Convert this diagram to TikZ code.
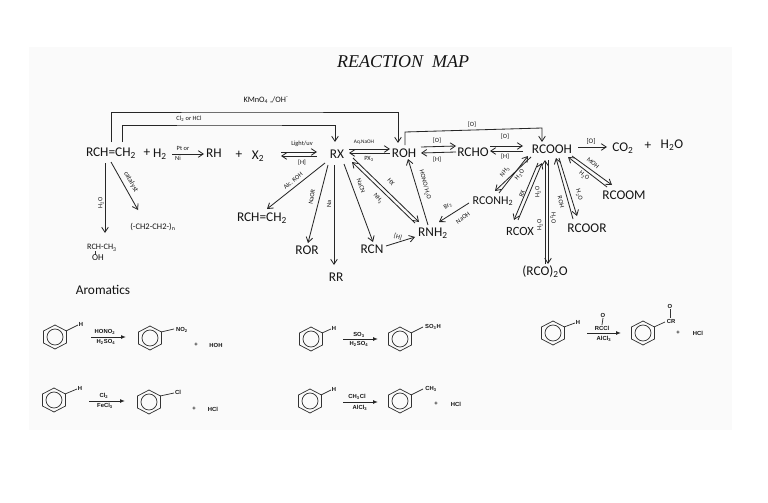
\documentclass[tikz,border=0pt]{standalone}
\usepackage{fontspec}
\setmainfont{Carlito}
\newfontfamily\chemsans{Liberation Sans}
\newfontfamily\titlefont{Liberation Serif}
\usetikzlibrary{arrows.meta}
\tikzset{
 every node/.style={inner sep=0pt,outer sep=0pt,text=black!92},
 chem/.style={font=\fontsize{10pt}{11pt}\selectfont},
 lab/.style={font=\fontsize{4.8pt}{5pt}\selectfont},
 arlab/.style={font=\chemsans\bfseries\fontsize{4.4pt}{5pt}\selectfont},
 arr/.style={draw=black!85,line width=0.62pt,-{Straight Barb[length=3.8pt,width=5pt]}},
 ararr/.style={draw=black!85,line width=0.7pt,-{Latex[length=3.6pt,width=2.8pt]}},
 ring/.style={draw=black!80,line width=0.55pt,minimum size=12pt,circle,fill=none},
 bond/.style={draw=black!80,line width=0.55pt},
}
\newcommand{\benz}[3]{%
 \node[ring] (#1) at (#2,#3) {};
 \draw[bond] (#2+11.5,#3-6) -- (#2,#3-12) -- (#2-11.5,#3-6) -- (#2-11.5,#3+6) -- (#2,#3+12) -- (#2+11.5,#3+6) -- cycle;
}
\newcommand{\pt}[3]{([shift={(#2,#3)}]#1.center)}
\begin{document}
\begin{tikzpicture}[x=0.75pt,y=-0.75pt]
\useasboundingbox (0,0) rectangle (768,503);
\fill[white] (0,0) rectangle (768,503);
\fill[black!2] (29,47) rectangle (732,430);
% title
\node[font=\titlefont\itshape\fontsize{13.5pt}{14pt}\selectfont] (title) at (403,62) {REACTION\ \ MAP};
% main nodes
\node[chem] (alk) at (111,153) {RCH=CH\textsubscript{2}};
\node[chem] (plusa) at (147,153) {+};
\node[chem] (htwo) at (160,154) {H\textsubscript{2}};
\node[chem] (rh) at (214,153) {RH};
\node[chem] (plusb) at (239,155) {+};
\node[chem] (xtwo) at (258,156) {X\textsubscript{2}};
\node[chem] (rx) at (337,154) {RX};
\node[chem] (roh) at (404,153) {ROH};
\node[chem] (rcho) at (473,152) {RCHO};
\node[chem] (rcooh) at (552,149) {RCOOH};
\node[chem] (co) at (623,148) {CO\textsubscript{2}};
\node[chem] (plusc) at (648,146) {+};
\node[chem] (hto) at (672,145) {H\textsubscript{2}O};
\node[chem] (rcoom) at (624,195) {RCOOM};
\node[chem] (rcoor) at (587,228) {RCOOR};
\node[chem,font=\fontsize{9.4pt}{11pt}\selectfont] (rcox) at (520,231) {RCOX};
\node[chem] (anh) at (545,272) {(RCO)\textsubscript{2}O};
\node[chem,font=\fontsize{9pt}{10pt}\selectfont] (rconh) at (493,201) {RCONH\textsubscript{2}};
\node[chem] (rnh) at (433,233) {RNH\textsubscript{2}};
\node[chem] (rcn) at (372,249) {RCN};
\node[chem] (rr) at (336,277) {RR};
\node[chem] (ror) at (307,250) {ROR};
\node[chem] (alkb) at (262,218) {RCH=CH\textsubscript{2}};
\node[lab,font=\fontsize{6.4pt}{7pt}\selectfont] (poly) at (153,227) {(-CH2-CH2-)\textsubscript{n}};
\node[lab,font=\fontsize{6.2pt}{7pt}\selectfont] (alc) at (102,248) {RCH-CH\textsubscript{3}};
\node[lab,font=\fontsize{6.8pt}{7pt}\selectfont] (alcoh) at (98,258) {OH};
\draw[bond] \pt{alc}{-7}{3} -- \pt{alcoh}{-3}{-3};
% top lines
\draw[arr] \pt{alk}{0}{-11} |- (250,112) -| \pt{roh}{-6}{-10};
\draw[arr] \pt{alk}{11}{-11} |- (230,125) -| \pt{rx}{-2}{-12};
\draw[arr] \pt{roh}{1}{-8} -- ++(0,-13) -- \pt{rcooh}{-10}{-21} -- \pt{rcooh}{-10}{-7};
\node[lab,font=\fontsize{6.2pt}{6pt}\selectfont] (klab) at (266,100) {KMnO\textsubscript{4} ,/OH\textsuperscript{-}};
\node[lab] (cllab) at (189,119) {Cl\textsubscript{2} or HCl};
\node[lab] (olab) at (472,125) {[O]};
% left
\draw[arr] \pt{htwo}{12}{0} -- \pt{rh}{-10}{1};
\node[lab] (ptl) at (183,148) {Pt or};
\node[lab] (nil) at (178,158) {Ni};
\draw[arr] \pt{xtwo}{23}{-4} -- \pt{rx}{-20}{-2};
\draw[arr] \pt{rx}{-20}{2} -- \pt{xtwo}{23}{0};
\node[lab] (lightl) at (302,144) {Light/uv};
\node[lab] (hl) at (302,163) {[H]};
\draw[arr] \pt{alk}{-6}{10} -- \pt{alc}{3}{-15};
\node[lab,rotate=90] (hwl) at (101,203) {H\textsubscript{2}O};
\draw[arr] \pt{alk}{0}{9} -- \pt{poly}{-15}{-17};
\node[lab,rotate=-60,font=\fontsize{5.4pt}{6pt}\selectfont] (catl) at (131,182) {catalyst};
% RX products
\draw[arr] \pt{rx}{-12}{9} -- \pt{alkb}{5}{-9};
\node[lab,rotate=40] (kohl) at (293,181) {Alc. KOH};
\draw[arr] \pt{rx}{-9}{11} -- \pt{ror}{1}{-7};
\node[lab,rotate=80] (norl) at (312,197) {NaOR};
\draw[arr] \pt{rx}{-3}{11} -- \pt{rr}{-2}{-12};
\node[lab,rotate=90] (nal) at (329,204) {Na};
\draw[arr] \pt{rx}{7}{10} -- \pt{rcn}{1}{-7};
\node[lab,rotate=-70] (cnl) at (361,186) {NaCN};
\draw[arr] \pt{rcn}{14}{-3} -- \pt{rnh}{-18}{4};
\node[lab,rotate=-15] (hrl) at (398,237) {[H]};
\draw[arr] \pt{rx}{12}{-5} -- \pt{roh}{-14}{-4};
\draw[arr] \pt{roh}{-14}{0} -- \pt{rx}{12}{-1};
\node[lab,font=\fontsize{4pt}{5pt}\selectfont] (aql) at (364,142) {Aq.NaOH};
\node[lab] (pxl) at (369,159) {PX\textsubscript{3}};
\draw[arr] \pt{rx}{16}{4} -- \pt{rnh}{-14}{-11};
\draw[arr] \pt{rnh}{-18}{-10} -- \pt{rx}{15}{8};
\node[lab,rotate=-50] (hxl) at (391,182) {HX};
\node[lab,rotate=-50] (nhl) at (378,199) {NH\textsubscript{3}};
\draw[arr] \pt{rnh}{-5}{-8} -- \pt{roh}{4}{6};
\node[lab,rotate=-75] (honol) at (425,185) {HONO/H\textsubscript{2}O};
\draw[arr] \pt{roh}{17}{-6} -- \pt{rcho}{-17}{-6};
\draw[arr] \pt{rcho}{-17}{0} -- \pt{roh}{17}{0};
\node[lab] (ool) at (437,141) {[O]};
\node[lab] (hhl) at (437,160) {[H]};
\draw[arr] \pt{rcho}{17}{-6} -- \pt{rcooh}{-29}{-3};
\draw[arr] \pt{rcooh}{-29}{2} -- \pt{rcho}{17}{-1};
\node[lab] (oxl) at (505,137) {[O]};
\node[lab] (hxxl) at (505,157) {[H]};
\draw[arr] \pt{rconh}{-24}{2} -- \pt{rnh}{6}{-11};
\node[lab,rotate=35] (brl) at (448,206) {Br\textsubscript{2}};
\node[lab,rotate=35] (naohl) at (463,218) {NaOH};
% RCOOH
\draw[arr] \pt{rcooh}{26}{-2} -- \pt{co}{-16}{-1};
\node[lab,font=\fontsize{5.2pt}{6pt}\selectfont] (ocol) at (591,141) {[O]};
\draw[arr] \pt{rcooh}{-21}{8} -- \pt{rconh}{2}{-10};
\draw[arr] \pt{rconh}{6}{-8} -- \pt{rcooh}{-24}{7};
\node[lab,rotate=50] (nhtl) at (505,172) {NH\textsubscript{3}};
\node[lab,rotate=50] (hwal) at (520,175) {H\textsubscript{2}O};
\draw[arr] \pt{rcooh}{-14}{14} -- \pt{rcox}{-6}{-11};
\draw[arr] \pt{rcox}{-2}{-11} -- \pt{rcooh}{-10}{14};
\node[lab,rotate=70] (rxxl) at (522,194) {RX};
\node[lab,rotate=90] (hwbl) at (538,192) {H\textsubscript{2}O};
\draw[arr] \pt{anh}{0}{-8} -- \pt{rcooh}{-7}{11};
\draw[arr] \pt{rcooh}{-4}{11} -- \pt{anh}{3}{-8};
\node[lab,rotate=90] (hwcl) at (540,225) {H\textsubscript{2}O};
\node[lab,rotate=-90] (hwdl) at (553,218) {H\textsubscript{2}O};
\draw[arr] \pt{rcoor}{-14}{-9} -- \pt{rcooh}{4}{9};
\draw[arr] \pt{rcooh}{7}{9} -- \pt{rcoor}{-10}{-12};
\node[lab,rotate=-75] (rohl) at (561,202) {ROH};
\node[lab,rotate=-75] (hwel) at (579,195) {H\textsubscript{2}O};
\draw[arr] \pt{rcooh}{20}{7} -- \pt{rcoom}{-12}{-10};
\draw[arr] \pt{rcoom}{-17}{-8} -- \pt{rcooh}{16}{8};
\node[lab,rotate=-40] (mohl) at (593,163) {MOH};
\node[lab,rotate=-40] (hwfl) at (584,176) {H\textsubscript{2}O};
% Aromatics
\node[font=\fontsize{10pt}{11pt}\selectfont] (arom) at (103,290) {Aromatics};
\benz{ra}{55}{337}
\benz{rb}{150}{338}
\benz{rc}{54}{400}
\benz{rd}{149}{402}
\benz{re}{311}{339}
\benz{rf}{400}{339}
\benz{rg}{310}{401}
\benz{rh2}{400}{401}
\benz{ri}{553}{333}
\benz{rj}{643}{333}
\node[arlab] (ha) at (81,324) {H};
\draw[bond] \pt{ra}{11}{-6} -- \pt{ha}{-3}{1};
\draw[ararr] \pt{ra}{36}{0} -- \pt{rb}{-24}{-1};
\node[arlab] (la) at (105,332) {HONO\textsubscript{2}};
\node[arlab] (lb) at (106,342) {H\textsubscript{2}SO\textsubscript{4}};
\node[arlab] (nb) at (182,330) {NO\textsubscript{2}};
\draw[bond] \pt{rb}{11}{-6} -- \pt{nb}{-8}{-1};
\node[arlab] (pa) at (196,345) {+};
\node[arlab] (hoh) at (216,345) {HOH};
\node[arlab] (hc) at (80,388) {H};
\draw[bond] \pt{rc}{11}{-6} -- \pt{hc}{-3}{1};
\draw[ararr] \pt{rc}{35}{1} -- \pt{rd}{-24}{-1};
\node[arlab] (lc) at (104,396) {Cl\textsubscript{2}};
\node[arlab] (ld) at (105,406) {FeCl\textsubscript{3}};
\node[arlab] (cl) at (178,392) {Cl};
\draw[bond] \pt{rd}{11}{-6} -- \pt{cl}{-4}{1};
\node[arlab] (pb) at (194,409) {+};
\node[arlab] (hcla) at (213,409) {HCl};
\node[arlab] (he) at (334,328) {H};
\draw[bond] \pt{re}{11}{-6} -- \pt{he}{-3}{1};
\draw[ararr] \pt{re}{32}{0} -- \pt{rf}{-22}{0};
\node[arlab] (le) at (359,335) {SO\textsubscript{3}};
\node[arlab] (lf) at (359,344) {H\textsubscript{2}SO\textsubscript{4}};
\node[arlab] (so) at (433,327) {SO\textsubscript{3}H};
\draw[bond] \pt{rf}{11}{-6} -- \pt{so}{-10}{0};
\node[arlab] (hg) at (334,389) {H};
\draw[bond] \pt{rg}{11}{-6} -- \pt{hg}{-3}{1};
\draw[ararr] \pt{rg}{33}{1} -- \pt{rh2}{-22}{1};
\node[arlab] (lg) at (357,397) {CH\textsubscript{3}Cl};
\node[arlab] (lh) at (360,408) {AlCl\textsubscript{3}};
\node[arlab] (cha) at (431,389) {CH\textsubscript{3}};
\draw[bond] \pt{rh2}{11}{-6} -- \pt{cha}{-8}{0};
\node[arlab] (pc) at (436,404) {+};
\node[arlab] (hclb) at (456,404) {HCl};
\node[arlab] (hi) at (578,322) {H};
\draw[bond] \pt{ri}{11}{-6} -- \pt{hi}{-3}{1};
\draw[ararr] \pt{ri}{34}{0} -- \pt{rj}{-22}{0};
\node[arlab] (oa) at (603,315) {O};
\node[arlab] (li) at (602,328) {RCCl};
\draw[bond] \pt{oa}{0}{3} -- \pt{li}{0}{-3};
\node[arlab] (lj) at (604,339) {AlCl\textsubscript{3}};
\node[arlab] (cr) at (671,321) {CR};
\node[arlab] (ob) at (670,306) {O};
\draw[bond] \pt{ob}{0}{3} -- \pt{cr}{-1}{-3};
\draw[bond] \pt{rj}{11}{-6} -- \pt{cr}{-6}{1};
\node[arlab] (pd) at (678,333) {+};
\node[arlab] (hclc) at (698,333) {HCl};
\end{tikzpicture}
\end{document}
